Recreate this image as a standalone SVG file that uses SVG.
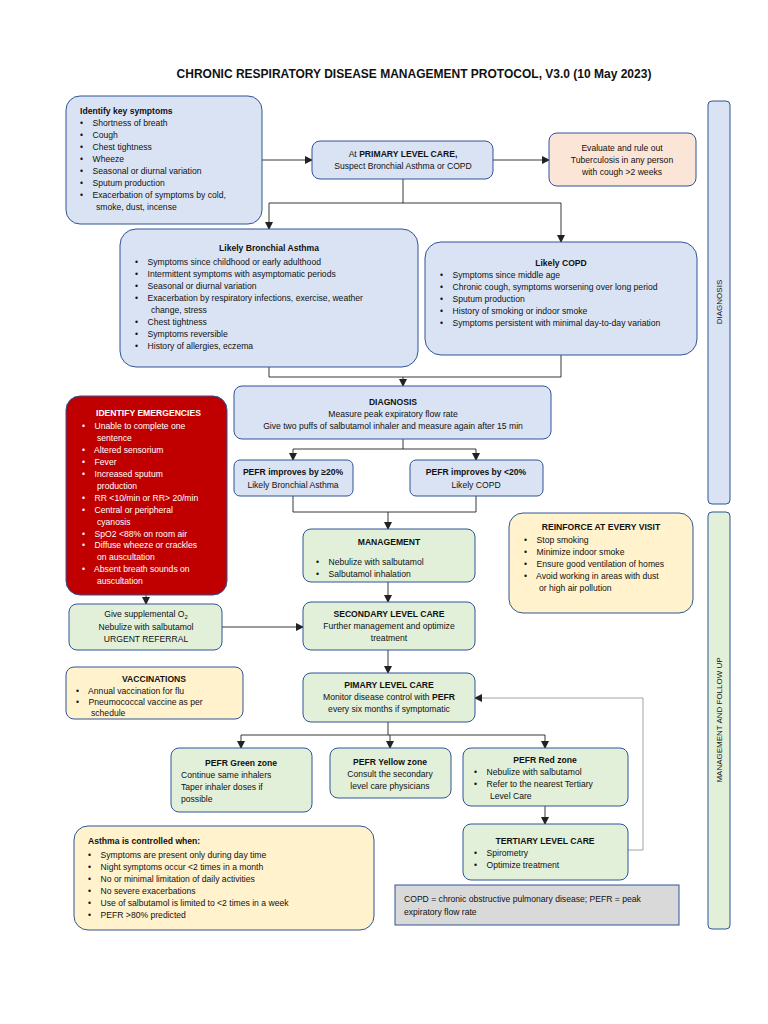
<svg xmlns="http://www.w3.org/2000/svg" width="768" height="1024" viewBox="0 0 768 1024">
<defs>
<marker id="ar" markerWidth="8" markerHeight="8" refX="7" refY="4" orient="auto" markerUnits="userSpaceOnUse"><path d="M0,0 L8,4 L0,8 z" fill="#222"/></marker>
<style>
text{font-family:"Liberation Sans",Arial,sans-serif;font-size:8.6px;fill:#111;white-space:pre}
.b{font-weight:bold}
.blue{fill:#dae3f3;stroke:#2f5597;stroke-width:1}
.green{fill:#e2f0d9;stroke:#2f5597;stroke-width:1}
.yel{fill:#fff2cc;stroke:#2f5597;stroke-width:1}
.w{fill:#fff}
.c{stroke:#222;stroke-width:0.9;fill:none}
.m{text-anchor:middle}
</style>
</defs>
<rect width="768" height="1024" fill="#fff"/>
<text x="414" y="78" class="b m" style="font-size:12px">CHRONIC RESPIRATORY DISEASE MANAGEMENT PROTOCOL, V3.0 (10 May 2023)</text>

<g id="connectors">
<path class="c" d="M262,160 H312" marker-end="url(#ar)"/>
<path class="c" d="M493,160 H549" marker-end="url(#ar)"/>
<path class="c" d="M403,179 V203 M269,203 H561"/>
<path class="c" d="M269,203 V229" marker-end="url(#ar)"/>
<path class="c" d="M561,203 V242" marker-end="url(#ar)"/>
<path class="c" d="M269,367 V377 M561,355 V377 M269,377 H561"/>
<path class="c" d="M403,377 V386" marker-end="url(#ar)"/>
<path class="c" d="M403,439 V449 M293,449 H476"/>
<path class="c" d="M293,449 V460" marker-end="url(#ar)"/>
<path class="c" d="M476,449 V460" marker-end="url(#ar)"/>
<path class="c" d="M293,496 V512 M476,496 V512 M293,512 H476"/>
<path class="c" d="M388,512 V529" marker-end="url(#ar)"/>
<path class="c" d="M388,582 V602" marker-end="url(#ar)"/>
<path class="c" d="M146,595 V604" marker-end="url(#ar)"/>
<path class="c" d="M222,627 H303" marker-end="url(#ar)"/>
<path class="c" d="M388,650 V673" marker-end="url(#ar)"/>
<path class="c" d="M388,722 V735 M241,735 H545"/>
<path class="c" d="M241,735 V748" marker-end="url(#ar)"/>
<path class="c" d="M390,735 V748" marker-end="url(#ar)"/>
<path class="c" d="M545,735 V748" marker-end="url(#ar)"/>
<path class="c" d="M545,806 V824" marker-end="url(#ar)"/>
<path d="M628,850 H643 V698 H475" stroke="#999" stroke-width="0.9" fill="none" marker-end="url(#ar)"/>
</g>

<g id="symptoms"><rect class="blue" x="66" y="96" width="196" height="128" rx="14"/>
<text x="80" y="114" class="b">Identify key symptoms</text>
<text x="80" y="126">•    Shortness of breath</text>
<text x="80" y="138">•    Cough</text>
<text x="80" y="150">•    Chest tightness</text>
<text x="80" y="162">•    Wheeze</text>
<text x="80" y="174">•    Seasonal or diurnal variation</text>
<text x="80" y="186">•    Sputum production</text>
<text x="80" y="198">•    Exacerbation of symptoms by cold,</text>
<text x="96" y="210">smoke, dust, incense</text></g>

<g id="primary"><rect class="blue" x="312" y="141" width="181" height="38" rx="8"/>
<text x="403" y="157" class="m">At <tspan class="b">PRIMARY LEVEL CARE,</tspan></text>
<text x="403" y="169" class="m">Suspect Bronchial Asthma or COPD</text></g>

<g id="tb"><rect x="549" y="133" width="147" height="53" rx="8" fill="#fbe5d6" stroke="#2f5597"/>
<text x="622" y="151" class="m">Evaluate and rule out</text>
<text x="622" y="163" class="m">Tuberculosis in any person</text>
<text x="622" y="175" class="m">with cough &gt;2 weeks</text></g>

<g id="diag-bar"><rect class="blue" x="708" y="101" width="22" height="403" rx="4"/>
<text transform="translate(722,302) rotate(-90)" class="m" style="font-size:8px">DIAGNOSIS</text></g>
<g id="mgmt-bar"><rect class="green" x="708" y="512" width="22" height="417" rx="4"/>
<text transform="translate(722,720) rotate(-90)" class="m" style="font-size:8px">MANAGEMENT AND FOLLOW UP</text></g>

<g id="asthma"><rect class="blue" x="120" y="229" width="298" height="138" rx="16"/>
<text x="269" y="251" class="b m">Likely Bronchial Asthma</text>
<text x="135" y="265">•    Symptoms since childhood or early adulthood</text>
<text x="135" y="277">•    Intermittent symptoms with asymptomatic periods</text>
<text x="135" y="289">•    Seasonal or diurnal variation</text>
<text x="135" y="301">•    Exacerbation by respiratory infections, exercise, weather</text>
<text x="151" y="313">change, stress</text>
<text x="135" y="325">•    Chest tightness</text>
<text x="135" y="337">•    Symptoms reversible</text>
<text x="135" y="349">•    History of allergies, eczema</text></g>

<g id="copd"><rect class="blue" x="425" y="242" width="272" height="113" rx="16"/>
<text x="561" y="266" class="b m">Likely COPD</text>
<text x="440" y="278">•    Symptoms since middle age</text>
<text x="440" y="290">•    Chronic cough, symptoms worsening over long period</text>
<text x="440" y="302">•    Sputum production</text>
<text x="440" y="314">•    History of smoking or indoor smoke</text>
<text x="440" y="326">•    Symptoms persistent with minimal day-to-day variation</text></g>

<g id="diagnosis"><rect class="blue" x="234" y="386" width="317" height="53" rx="8"/>
<text x="393" y="405" class="b m">DIAGNOSIS</text>
<text x="393" y="417" class="m">Measure peak expiratory flow rate</text>
<text x="393" y="429" class="m">Give two puffs of salbutamol inhaler and measure again after 15 min</text></g>

<g id="emergencies"><rect x="66" y="396" width="161" height="199" rx="14" fill="#c00000" stroke="#2f5597"/>
<text x="96" y="416" class="b w">IDENTIFY EMERGENCIES</text>
<text x="82" y="429" class="w">•    Unable to complete one</text>
<text x="97" y="441" class="w">sentence</text>
<text x="82" y="453" class="w">•    Altered sensorium</text>
<text x="82" y="465" class="w">•    Fever</text>
<text x="82" y="477" class="w">•    Increased sputum</text>
<text x="97" y="489" class="w">production</text>
<text x="82" y="501" class="w">•    RR &lt;10/min or RR&gt; 20/min</text>
<text x="82" y="513" class="w">•    Central or peripheral</text>
<text x="97" y="525" class="w">cyanosis</text>
<text x="82" y="537" class="w">•    SpO2 &lt;88% on room air</text>
<text x="82" y="548" class="w">•    Diffuse wheeze or crackles</text>
<text x="97" y="560" class="w">on auscultation</text>
<text x="82" y="572" class="w">•    Absent breath sounds on</text>
<text x="97" y="584" class="w">auscultation</text></g>

<g id="pefr-asthma"><rect class="blue" x="234" y="460" width="119" height="36" rx="6"/>
<text x="293" y="475" class="b m">PEFR improves by ≥20%</text>
<text x="293" y="488" class="m">Likely Bronchial Asthma</text></g>
<g id="pefr-copd"><rect class="blue" x="410" y="460" width="133" height="36" rx="6"/>
<text x="476" y="475" class="b m">PEFR improves by &lt;20%</text>
<text x="476" y="488" class="m">Likely COPD</text></g>

<g id="management"><rect class="green" x="303" y="529" width="172" height="53" rx="8"/>
<text x="389" y="545" class="b m">MANAGEMENT</text>
<text x="316" y="565">•    Nebulize with salbutamol</text>
<text x="316" y="577">•    Salbutamol inhalation</text></g>

<g id="reinforce"><rect class="yel" x="509" y="513" width="184" height="100" rx="14"/>
<text x="601" y="530" class="b m">REINFORCE AT EVERY VISIT</text>
<text x="524" y="543">•    Stop smoking</text>
<text x="524" y="555">•    Minimize indoor smoke</text>
<text x="524" y="567">•    Ensure good ventilation of homes</text>
<text x="524" y="579">•    Avoid working in areas with dust</text>
<text x="539" y="591">or high air pollution</text></g>

<g id="supplemental"><rect class="green" x="69" y="604" width="153" height="46" rx="8"/>
<text x="146" y="617" class="m">Give supplemental O<tspan dy="2" style="font-size:6px">2</tspan></text>
<text x="146" y="630" class="m">Nebulize with salbutamol</text>
<text x="146" y="642" class="m">URGENT REFERRAL</text></g>

<g id="secondary"><rect class="green" x="303" y="602" width="172" height="48" rx="8"/>
<text x="389" y="617" class="b m">SECONDARY LEVEL CARE</text>
<text x="389" y="629" class="m">Further management and optimize</text>
<text x="389" y="641" class="m">treatment</text></g>

<g id="vaccinations"><rect class="yel" x="66" y="667" width="177" height="52" rx="8"/>
<text x="154" y="682" class="b m">VACCINATIONS</text>
<text x="76" y="694">•    Annual vaccination for flu</text>
<text x="76" y="705">•    Pneumococcal vaccine as per</text>
<text x="91" y="716">schedule</text></g>

<g id="pimary"><rect class="green" x="303" y="673" width="172" height="49" rx="8"/>
<text x="389" y="688" class="b m">PIMARY LEVEL CARE</text>
<text x="389" y="700" class="m">Monitor disease control with <tspan class="b">PEFR</tspan></text>
<text x="389" y="712" class="m">every six months if symptomatic</text></g>

<g id="green-zone"><rect class="green" x="171" y="748" width="141" height="64" rx="8"/>
<text x="241" y="766" class="b m">PEFR Green zone</text>
<text x="181" y="778">Continue same inhalers</text>
<text x="181" y="790">Taper inhaler doses if</text>
<text x="181" y="802">possible</text></g>

<g id="yellow-zone"><rect class="green" x="330" y="748" width="121" height="50" rx="8"/>
<text x="390" y="765" class="b m">PEFR Yellow zone</text>
<text x="390" y="777" class="m">Consult the secondary</text>
<text x="390" y="789" class="m">level care physicians</text></g>

<g id="red-zone"><rect class="green" x="463" y="748" width="165" height="58" rx="8"/>
<text x="545" y="763" class="b m">PEFR Red zone</text>
<text x="474" y="775">•    Nebulize with salbutamol</text>
<text x="474" y="787">•    Refer to the nearest Tertiary</text>
<text x="490" y="799">Level Care</text></g>

<g id="tertiary"><rect class="green" x="463" y="824" width="165" height="56" rx="8"/>
<text x="545" y="844" class="b m">TERTIARY LEVEL CARE</text>
<text x="474" y="856">•    Spirometry</text>
<text x="474" y="868">•    Optimize treatment</text></g>

<g id="controlled"><rect class="yel" x="74" y="826" width="300" height="104" rx="14"/>
<text x="88" y="844" class="b">Asthma is controlled when:</text>
<text x="88" y="858">•    Symptoms are present only during day time</text>
<text x="88" y="870">•    Night symptoms occur &lt;2 times in a month</text>
<text x="88" y="882">•    No or minimal limitation of daily activities</text>
<text x="88" y="894">•    No severe exacerbations</text>
<text x="88" y="906">•    Use of salbutamol is limited to &lt;2 times in a week</text>
<text x="88" y="918">•    PEFR &gt;80% predicted</text></g>

<g id="footnote"><rect x="395" y="885" width="284" height="40" fill="#d9d9d9" stroke="#2f5597"/>
<text x="404" y="902">COPD = chronic obstructive pulmonary disease; PEFR = peak</text>
<text x="404" y="915">expiratory flow rate</text></g>
</svg>
